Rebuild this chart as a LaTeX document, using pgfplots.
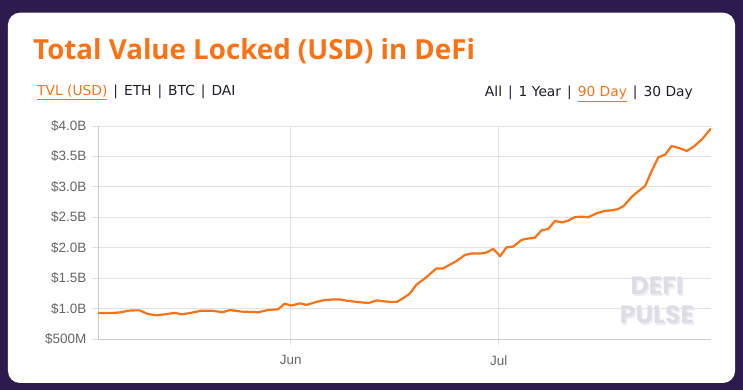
\documentclass[border=0pt]{standalone}
\usepackage{fontspec}
\setmainfont{Liberation Sans}
\newfontfamily\titlefont{Open Sans}
\newfontfamily\tabfont{DejaVu Sans}
\newfontfamily\wmfont{Poppins}
\usepackage{pgfplots}
\pgfplotsset{compat=1.18}
\usetikzlibrary{calc,backgrounds}
\definecolor{bgpurple}{RGB}{45,27,78}
\definecolor{dforange}{RGB}{249,115,22}
\definecolor{ticklbl}{RGB}{102,102,102}
\definecolor{gridc}{RGB}{226,226,226}
\definecolor{axisc}{RGB}{205,205,205}
\definecolor{tabtext}{RGB}{30,30,40}
\definecolor{wm}{RGB}{222,221,231}
\definecolor{wmshadow}{RGB}{238,237,243}
\newcommand{\sep}{\hspace{6pt}\textcolor{bgpurple}{|}\hspace{6pt}}
\pgfplotstableread{
day tvl
-27.8 0.93
-26.7 0.925
-25.4 0.93
-24.4 0.94
-23.5 0.965
-22.5 0.97
-21.8 0.97
-20.6 0.91
-19.4 0.89
-18.2 0.905
-16.7 0.93
-15.8 0.905
-14.6 0.925
-12.9 0.965
-11.4 0.965
-9.8 0.94
-8.8 0.975
-7.1 0.95
-5.9 0.945
-4.7 0.94
-3.3 0.975
-1.8 0.99
-0.9 1.08
0.1 1.05
1.3 1.085
2.3 1.06
3.7 1.11
4.9 1.14
6.1 1.15
7.1 1.15
8.0 1.13
9.5 1.11
11.2 1.09
12.4 1.135
13.3 1.12
14.3 1.11
15.3 1.11
16.2 1.17
17.2 1.25
18.1 1.39
19.6 1.52
21.0 1.66
22.0 1.66
22.9 1.72
23.9 1.78
25.1 1.88
26.1 1.905
27.3 1.905
28.2 1.92
29.2 1.98
30.2 1.86
31.1 2.005
32.1 2.02
33.3 2.13
34.2 2.15
35.2 2.165
36.2 2.29
37.1 2.305
38.1 2.44
39.1 2.415
40.0 2.445
41.0 2.505
42.0 2.51
42.9 2.50
44.1 2.565
45.1 2.60
46.3 2.615
47.2 2.635
48.0 2.685
49.2 2.84
50.1 2.925
51.1 3.015
52.0 3.25
53.0 3.485
54.0 3.53
54.9 3.67
56.1 3.635
57.1 3.59
58.1 3.66
59.3 3.78
60.6 3.96
}\tvldata
\begin{document}
\begin{tikzpicture}[x=1pt,y=1pt]
\begin{axis}[
  scale only axis,
  width=613pt, height=213pt,
  xmin=-27.8, xmax=60.6, ymin=0.5, ymax=4.0,
  xtick={0,30}, xticklabels={Jun,Jul},
  ytick={0.5,1,1.5,2,2.5,3,3.5,4},
  yticklabels={\$500M,\$1.0B,\$1.5B,\$2.0B,\$2.5B,\$3.0B,\$3.5B,\$4.0B},
  axis lines*=left,
  axis line style={axisc, line width=0.8pt},
  grid=major, major grid style={gridc, line width=0.8pt},
  tick align=outside, major tick length=6pt,
  tick style={gridc, line width=0.8pt},
  tick label style={text=ticklbl, font=\fontsize{13.5}{15}\selectfont},
  yticklabel style={xshift=-2pt},
  xticklabel style={yshift=-7pt},
]
\coordinate (LL) at (rel axis cs:0,0);
\addplot[dforange, line width=2.2pt, line join=round] table[x=day,y=tvl] {\tvldata};
\end{axis}
\begin{scope}[shift={($(LL)+(-98,-51)$)}]
\begin{pgfonlayer}{background}
\fill[bgpurple] (0,0) rectangle (743,390);
\fill[white, rounded corners=12pt] (8,7) rectangle (735,377.3);
\end{pgfonlayer}
\node[anchor=base west, inner sep=0, text=dforange, font=\titlefont\bfseries\fontsize{27.7}{30}\selectfont] at (33,330) {Total Value Locked (USD) in DeFi};
\node[anchor=base west, inner sep=0, text=tabtext, font=\tabfont\fontsize{13.8}{15}\selectfont] at (37,294) {\textcolor{dforange}{\underline{TVL (USD)}}\sep ETH\sep BTC\sep DAI};
\node[anchor=base east, inner sep=0, text=tabtext, font=\tabfont\fontsize{13.8}{15}\selectfont] at (693,293.5) {All\sep 1 Year\sep \textcolor{dforange}{\underline{90 Day}}\sep 30 Day};
\begin{scope}[font=\wmfont\bfseries\fontsize{25}{26}\selectfont]
\node[text=wmshadow, anchor=base] at (658.5,93.5) {DEFI};
\node[text=wmshadow, anchor=base] at (658.5,64.5) {PULSE};
\node[text=wm, anchor=base] at (657,95) {DEFI};
\node[text=wm, anchor=base] at (657,66) {PULSE};
\end{scope}
\end{scope}
\end{tikzpicture}
\end{document}
